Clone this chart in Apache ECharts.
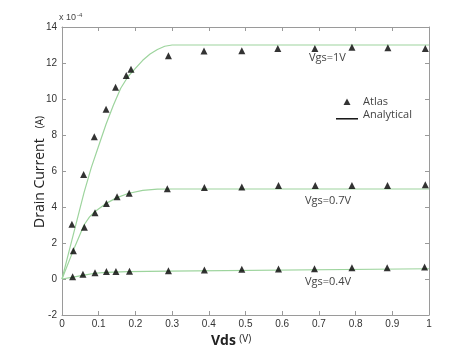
<!DOCTYPE html>
<html>
<head>
<meta charset="utf-8">
<script src="https://cdn.jsdelivr.net/npm/echarts@6/dist/echarts.min.js"></script>
<style>
html, body { margin: 0; padding: 0; background: #fff; }
#drainCurrent { width: 474px; height: 355px; }
</style>
</head>
<body>
<div id="drainCurrent"></div>
<script>
// Atlas (simulated) points, Id in units of 1e-4 A
var atlasVds1 = [0.027, 0.059, 0.088, 0.12, 0.146, 0.175, 0.188, 0.29, 0.387, 0.49, 0.588, 0.689, 0.79, 0.888, 0.99];
var atlasId1 = [3.04, 5.8, 7.9, 9.43, 10.65, 11.3, 11.65, 12.4, 12.67, 12.68, 12.8, 12.8, 12.87, 12.85, 12.8];
var atlasVds07 = [0.031, 0.061, 0.09, 0.121, 0.15, 0.183, 0.287, 0.388, 0.49, 0.59, 0.69, 0.79, 0.887, 0.99];
var atlasId07 = [1.57, 2.87, 3.68, 4.2, 4.57, 4.76, 5.02, 5.09, 5.11, 5.19, 5.19, 5.19, 5.19, 5.24];
var atlasVds04 = [0.029, 0.057, 0.09, 0.121, 0.147, 0.184, 0.29, 0.388, 0.49, 0.59, 0.688, 0.79, 0.886, 0.988];
var atlasId04 = [0.13, 0.26, 0.35, 0.41, 0.41, 0.43, 0.46, 0.5, 0.54, 0.56, 0.57, 0.63, 0.63, 0.67];

// analytical model curves
var modelVds1 = [0, 0.02, 0.04, 0.06, 0.08, 0.10, 0.12, 0.14, 0.16, 0.18, 0.20, 0.22, 0.24, 0.26, 0.28, 0.30, 1.0];
var modelId1 = [0, 1.6, 3.2, 4.8, 6.2, 7.4, 8.6, 9.65, 10.6, 11.25, 11.7, 12.15, 12.5, 12.75, 12.93, 13.0, 13.0];
var modelVds07 = [0, 0.03, 0.06, 0.075, 0.09, 0.12, 0.15, 0.18, 0.22, 0.26, 0.30, 1.0];
var modelId07 = [0, 1.55, 3.0, 3.45, 3.75, 4.2, 4.52, 4.75, 4.92, 4.99, 5.0, 5.0];
var modelVds04 = [0, 0.03, 0.06, 0.09, 0.12, 0.18, 0.29, 1.0];
var modelId04 = [0, 0.1, 0.22, 0.32, 0.37, 0.41, 0.44, 0.57];

var xTicks = [0, 0.1, 0.2, 0.3, 0.4, 0.5, 0.6, 0.7, 0.8, 0.9, 1];
var yTicks = [-2, 0, 2, 4, 6, 8, 10, 12, 14];

function pairs(xs, ys) {
    return xs.map(function (x, i) { return [x, ys[i]]; });
}

var boxColor = '#9a9a9a';
var lineGreen = '#9dd49d';

function atlasSeries(xs, ys) {
    return {
        name: 'Atlas',
        type: 'scatter',
        data: pairs(xs, ys),
        symbol: 'triangle',
        symbolSize: 7,
        itemStyle: { color: '#000' },
        z: 5
    };
}

function modelSeries(xs, ys) {
    return {
        name: 'Analytical',
        type: 'line',
        data: pairs(xs, ys),
        showSymbol: false,
        symbol: 'none',
        lineStyle: { color: lineGreen, width: 1.2 },
        itemStyle: { color: lineGreen },
        z: 3
    };
}

var myChart = echarts.init(document.getElementById('drainCurrent'));
var option = {
    backgroundColor: '#fff',
    animation: false,
    grid: { left: 62, right: 45, top: 27, bottom: 40 },
    legend: {
        orient: 'vertical',
        left: 336,
        top: 96,
        padding: 0,
        itemWidth: 22,
        itemHeight: 10,
        itemGap: 2,
        textStyle: { fontFamily: 'Open Sans', fontSize: 11, color: '#444' },
        data: [
            // invisible move-to points keep the icon box, so the triangle stays small
            { name: 'Atlas', icon: 'path://M0,0M22,10M7.5,8.5L11,2L14.5,8.5Z', itemStyle: { color: '#000' } },
            { name: 'Analytical', icon: 'path://M0,0M0,8.6L22,8.6L22,10L0,10Z', itemStyle: { color: '#000' } }
        ]
    },
    xAxis: [{
        type: 'value',
        min: xTicks[0],
        max: xTicks[xTicks.length - 1],
        interval: 0.1,
        axisLine: { show: true, onZero: false, lineStyle: { color: boxColor } },
        axisTick: { show: true, inside: true, length: 4, lineStyle: { color: boxColor } },
        axisLabel: { color: '#333', fontFamily: 'Liberation Sans', fontSize: 10, margin: 4 },
        splitLine: { show: false }
    }, {
        type: 'value',
        position: 'top',
        min: xTicks[0],
        max: xTicks[xTicks.length - 1],
        interval: 0.1,
        axisLine: { show: true, onZero: false, lineStyle: { color: boxColor } },
        axisTick: { show: true, inside: true, length: 4, lineStyle: { color: boxColor } },
        axisLabel: { show: false },
        splitLine: { show: false }
    }],
    yAxis: [{
        type: 'value',
        min: yTicks[0],
        max: yTicks[yTicks.length - 1],
        interval: 2,
        axisLine: { show: true, onZero: false, lineStyle: { color: boxColor } },
        axisTick: { show: true, inside: true, length: 4, lineStyle: { color: boxColor } },
        axisLabel: { color: '#333', fontFamily: 'Liberation Sans', fontSize: 10, margin: 5 },
        splitLine: { show: false }
    }, {
        type: 'value',
        position: 'right',
        min: yTicks[0],
        max: yTicks[yTicks.length - 1],
        interval: 2,
        axisLine: { show: true, onZero: false, lineStyle: { color: boxColor } },
        axisTick: { show: true, inside: true, length: 4, lineStyle: { color: boxColor } },
        axisLabel: { show: false },
        splitLine: { show: false }
    }],
    graphic: [
        {
            type: 'text', left: 59, top: 12,
            style: {
                text: '{a|x 10}{b|-4}',
                rich: {
                    a: { fontFamily: 'Liberation Sans', fontSize: 9, fill: '#444' },
                    b: { fontFamily: 'Liberation Sans', fontSize: 6, fill: '#444', verticalAlign: 'top', padding: [0, 0, 5, 1] }
                }
            }
        },
        {
            type: 'text', left: 211, top: 334,
            style: {
                text: '{a|Vds} {b|(V)}',
                rich: {
                    a: { fontFamily: 'Open Sans', fontSize: 14, fontWeight: 'bold', fill: '#222' },
                    b: { fontFamily: 'Open Sans', fontSize: 10, fill: '#222', padding: [0, 0, 4, 0] }
                }
            }
        },
        {
            type: 'text', x: 33, y: 228, rotation: Math.PI / 2,
            style: {
                text: '{a|Drain Current}   {b|(A)}',
                rich: {
                    a: { fontFamily: 'Open Sans', fontSize: 14, fill: '#222' },
                    b: { fontFamily: 'Open Sans', fontSize: 10, fill: '#222' }
                }
            }
        },
        { type: 'text', left: 309, top: 52, style: { text: 'Vgs=1V', fontFamily: 'Open Sans', fontSize: 11, fill: '#444' } },
        { type: 'text', left: 305, top: 195, style: { text: 'Vgs=0.7V', fontFamily: 'Open Sans', fontSize: 11, fill: '#444' } },
        { type: 'text', left: 305, top: 276, style: { text: 'Vgs=0.4V', fontFamily: 'Open Sans', fontSize: 11, fill: '#444' } }
    ],
    series: [
        modelSeries(modelVds1, modelId1),
        modelSeries(modelVds07, modelId07),
        modelSeries(modelVds04, modelId04),
        atlasSeries(atlasVds1, atlasId1),
        atlasSeries(atlasVds07, atlasId07),
        atlasSeries(atlasVds04, atlasId04)
    ]
};
myChart.setOption(option);
</script>
</body>
</html>
